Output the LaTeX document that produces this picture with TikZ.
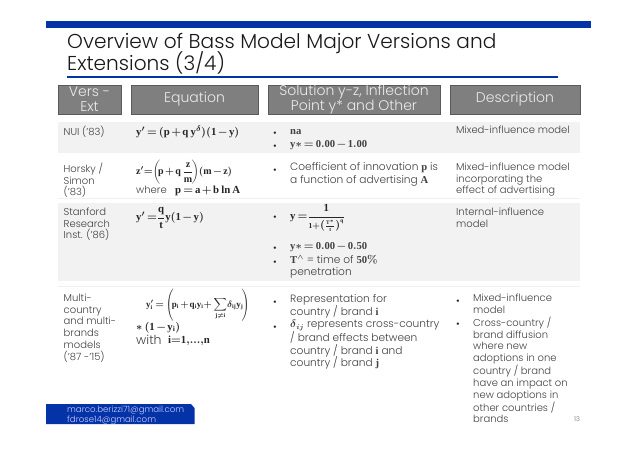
\documentclass[tikz,border=0pt]{standalone}
\usepackage{xcolor}
\usepackage{amsmath}
\usepackage{amssymb}
\usepackage[no-math]{fontspec}
\setmainfont{Poppins}[UprightFont=* Light]
\newfontfamily\eqserif{Liberation Serif}[NFSSFamily=EqSerif]
\DeclareMathAlphabet{\mb}{TU}{EqSerif}{bx}{n}
\usetikzlibrary{arrows,shapes,positioning}

\medmuskip=2mu
\thickmuskip=3mu

\definecolor{barblue}{HTML}{0433A8}
\definecolor{headgray}{HTML}{7F7F7F}
\definecolor{headline}{HTML}{5A5A5A}
\definecolor{rowgray}{HTML}{F2F2F2}
\definecolor{bodygray}{HTML}{404040}

\tikzset{
    titletext/.style={anchor=base west, inner sep=0pt, text=black!90, font=\fontsize{20.1}{22}\selectfont},
    headbox/.style={draw=headline, fill=headgray, line width=0.8pt, inner sep=0pt, text=white!92!black, align=center, font=\fontsize{14}{15}\selectfont},
    rowbar/.style={fill=rowgray, inner sep=0pt},
    celltext/.style={anchor=north west, inner sep=0pt, align=left, text=bodygray, font=\fontsize{10}{11.75}\selectfont\boldmath, execute at begin node=\strut},
    soltext/.style={celltext, font=\fontsize{10.6}{12.7}\selectfont\boldmath},
    eqn/.style={anchor=west, inner sep=0pt, text=black!85, font=\fontsize{10.8}{12}\selectfont\boldmath},
    smalleqn/.style={eqn, font=\fontsize{9}{11}\selectfont\boldmath},
    bul/.style={inner sep=0pt, text=black!85, font=\fontsize{10}{10}\selectfont},
    mailtext/.style={anchor=base west, inner sep=0pt, text=white!80!blue, font=\fontsize{8.6}{10}\selectfont}
}

\begin{document}
\begin{tikzpicture}[x=1pt,y=-1pt]
        \useasboundingbox (0,0) rectangle (638,451);

        \fill[barblue] (46,21) rectangle (591,28);
        \node[titletext] (title1) at (67,48) {Overview of Bass Model Major Versions and};
        \node[titletext] (title2) at (67,70) {Extensions (3/4)};
        \fill[barblue] (67,75.5) rectangle (558,78);

        \node[headbox, minimum width=63pt, minimum height=29pt] (hVers) at (89.5,99.5) {Vers -\\Ext};
        \node[headbox, minimum width=127pt, minimum height=29pt] (hEq) at (194.5,99.5) {Equation};
        \node[headbox, minimum width=172pt, minimum height=29pt] (hSol) at (354,99.5) {Solution y-z, Inflection\\Point y* and Other};
        \node[headbox, minimum width=130pt, minimum height=29pt] (hDesc) at (515,99.5) {Description};

        \node[rowbar, minimum width=522pt, minimum height=31pt] (row1) at (319,137) {};
        \node[rowbar, minimum width=522pt, minimum height=78pt] (row3) at (319,242) {};
        \draw[black!6, line width=0.8pt] (58,198.5) -- (580,198.5);
        \draw[black!6, line width=0.8pt] (58,286.5) -- (580,286.5);

        \node[celltext] (v1) at (63.5,125.7) {NUI ('83)};
        \node[eqn] (e1) at (136,132.5) {$\mb{y'=(p+q\,y^{\boldsymbol\delta})(1-y)}$};
        \node[bul] (b1a) at (275,134) {\textbullet};
        \node[bul] (b1b) at (275,147) {\textbullet};
        \node[soltext] (s1a) at (290,125.7) {$\mb{na}$};
        \node[soltext] (s1b) at (290,138.7) {$\mb{y{*}=0.00-1.00}$};
        \node[celltext] (d1) at (456,124.7) {Mixed-influence model};

        \node[celltext] (v2) at (63.5,162.7) {Horsky /\\Simon\\('83)};
        \node[eqn, font=\fontsize{10}{12}\selectfont\boldmath] (e2) at (136,172) {$\mb{z'{=}}\!\left(\!\mb{p+q}\,\dfrac{\mb{z}}{\mb{m}}\!\right)\!\mb{(m-z)}$};
        \node[celltext] (e2w) at (136,184.7) {where};
        \node[eqn] (e2b) at (175,190.5) {$\mb{p=a+b\,ln\,A}$};
        \node[bul] (b2a) at (275,171) {\textbullet};
        \node[soltext] (s2) at (290,162.7) {Coefficient of innovation $\mb{p}$ is\\a function of advertising $\mb{A}$};
        \node[celltext] (d2) at (456,162.7) {Mixed-influence model\\incorporating the\\effect of advertising};

        \node[celltext] (v3) at (63.5,207.7) {Stanford\\Research\\Inst. ('86)};
        \node[eqn] (e3) at (136,218) {$\mb{y'=}\dfrac{\mb{q}}{\mb{t}}\mb{y(1-y)}$};
        \node[bul] (b3a) at (275,218) {\textbullet};
        \node[bul] (b3b) at (275,249) {\textbullet};
        \node[bul] (b3c) at (275,263) {\textbullet};
        \node[eqn] (s3a) at (290,218) {$\mb{y=}\dfrac{\mb{1}}{\scriptstyle\mb{1{+}}\left(\frac{\mb{T^*}}{\mb{t}}\right)^{\mb{q}}}$};
        \node[soltext] (s3b) at (290,240.7) {$\mb{y{*}=0.00-0.50}$};
        \node[soltext] (s3c) at (290,254.7) {$\mb{T}^{\wedge}$ = time of $\mb{50\%}$\\penetration};
        \node[celltext] (d3) at (456,207.7) {Internal-influence\\model};

        \node[celltext] (v4) at (63.5,293.7) {Multi-\\country\\and multi-\\brands\\models\\('87 -'15)};
        \node[smalleqn] (e4a) at (146,305) {$\mb{y'_i=}\left(\!\mb{p_i+q_iy_i+}\displaystyle\sum\limits_{\mb{j\neq i}}\!\boldsymbol\delta_{\mb{ij}}\mb{y_j}\!\right)$};
        \node[eqn] (e4b) at (136,327.5) {$\mb{{*}\,(1-y_i)}$};
        \node[celltext, font=\fontsize{12.5}{14}\selectfont] (e4c) at (136,334) {with};
        \node[eqn] (e4d) at (168,341) {$\mb{i{=}1{,}...{,}n}$};
        \node[bul] (b4a) at (275,303) {\textbullet};
        \node[bul] (b4b) at (275,328) {\textbullet};
        \node[soltext] (s4a) at (290,294.7) {Representation for\\country / brand $\mb{i}$};
        \node[soltext] (s4b) at (290,319.7) {$\boldsymbol\delta_{\boldsymbol{ij}}$ represents cross-country\\/ brand effects between\\country / brand $\mb{i}$ and\\country / brand $\mb{j}$};
        \node[bul] (b4c) at (458,302) {\textbullet};
        \node[bul] (b4d) at (458,325) {\textbullet};
        \node[celltext] (d4a) at (473,293.7) {Mixed-influence\\model};
        \node[celltext] (d4b) at (473,316.7) {Cross-country /\\brand diffusion\\where new\\adoptions in one\\country / brand\\have an impact on\\new adoptions in\\other countries /\\brands};

        \fill[barblue] (46,404) -- (191,404) -- (194.5,408) -- (194.5,424) -- (46,424) -- cycle;
        \node[mailtext] (mail1) at (67,412) {marco.berizzi71@gmail.com};
        \node[mailtext] (mail2) at (67,422) {fdrose14@gmail.com};
        \node[anchor=base east, inner sep=0pt, text=black!60, font=\fontsize{6.5}{8}\selectfont] (page) at (580,421) {13};
    \end{tikzpicture}
\end{document}
